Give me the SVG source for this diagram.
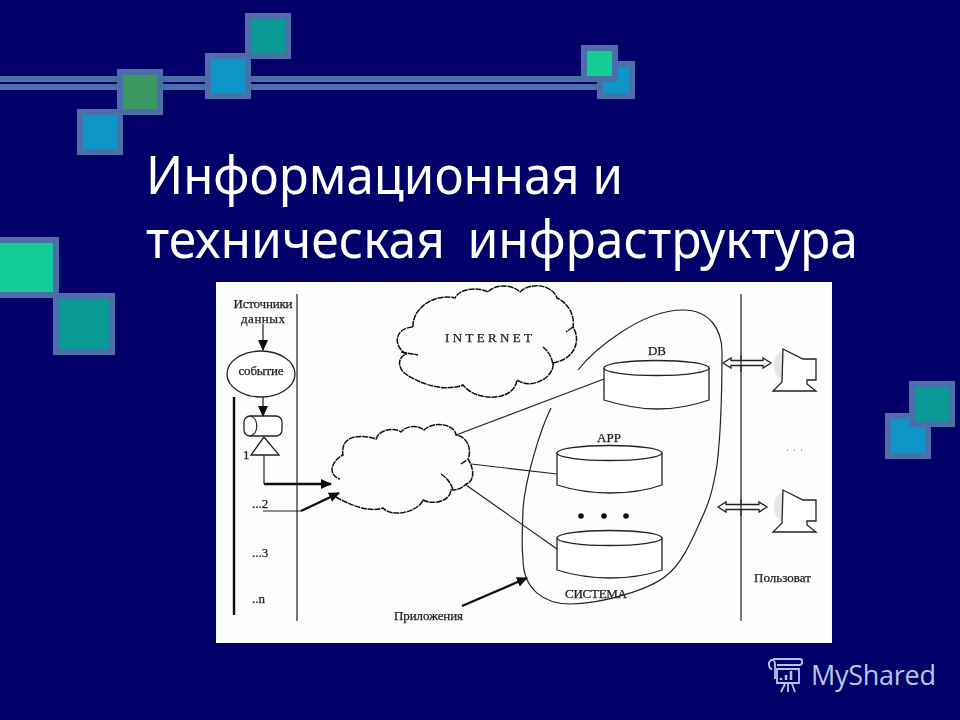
<svg xmlns="http://www.w3.org/2000/svg" width="960" height="720" viewBox="0 0 960 720">
<style>
.sq{stroke:#4a6fa8;stroke-width:6}
.band{fill:#4a6fa8}
.title{font-family:"Noto Sans","DejaVu Sans",sans-serif;font-size:52px;fill:#fff}
.t{font-family:"Liberation Serif",serif;fill:#222;font-size:13px;stroke:#222;stroke-width:.25}
.cloud{fill:none;stroke:#111;stroke-width:1.5;stroke-dasharray:6 .8}
.ln{fill:none;stroke:#222;stroke-width:1.2}
.thick{fill:none;stroke:#111;stroke-width:2.4}
.shape{fill:#fff;stroke:#222;stroke-width:1.3}
</style>
<defs>
<marker id="ah" markerUnits="userSpaceOnUse" markerWidth="12" markerHeight="12" refX="10" refY="5" orient="auto"><path d="M0 0L11 5L0 10Z" fill="#111"/></marker>
<filter id="soft" x="-2%" y="-2%" width="104%" height="104%"><feGaussianBlur stdDeviation="0.35"/></filter>
</defs>
<rect width="960" height="720" fill="#000068"/>
<g id="decor">
<rect class="band" x="0" y="76" width="598" height="6"/>
<rect class="band" x="0" y="84" width="598" height="6"/>
<rect class="sq" x="80" y="112" width="40" height="40" fill="#0f96c8"/>
<rect class="sq" x="120" y="72" width="40" height="40" fill="#3a9a62"/>
<rect class="sq" x="208" y="56" width="40" height="40" fill="#0f96c8"/>
<rect class="sq" x="248" y="16" width="40" height="40" fill="#0a9a96"/>
<rect class="sq" x="600" y="64" width="32" height="32" fill="#0f96c8"/>
<rect class="sq" x="584" y="48" width="31" height="31" fill="#14cc96"/>
<rect class="sq" x="-3" y="240" width="59" height="55" fill="#14cc96"/>
<rect class="sq" x="56" y="296" width="56" height="56" fill="#0a9a96"/>
<rect class="sq" x="888" y="416" width="40" height="40" fill="#0f96c8"/>
<rect class="sq" x="912" y="384" width="40" height="40" fill="#0a9a96"/>
</g>
<g id="title">
<text class="title" x="146" y="194" textLength="477" lengthAdjust="spacingAndGlyphs">Информационная и</text>
<text class="title" x="146" y="258" word-spacing="10" textLength="712" lengthAdjust="spacingAndGlyphs">техническая инфраструктура</text>
</g>
<rect id="panel" x="216" y="282" width="616" height="361" fill="#fdfdfe"/>
<g filter="url(#soft)">
<g id="connectors">
<path class="ln" d="M297 294V621"/>
<path class="ln" d="M741 294V621"/>
<path class="thick" d="M234 397V615"/>
<path class="ln" d="M263 324V350" stroke-width="1.5" marker-end="url(#ah)"/>
<path class="ln" d="M263 397V416" marker-end="url(#ah)"/>
<path class="ln" d="M264 455V484"/>
<path class="thick" d="M264 484H331" marker-end="url(#ah)"/>
<path class="ln" d="M263 511H301"/>
<path class="thick" d="M301 511L339 493" marker-end="url(#ah)"/>
<path class="ln" d="M456 435L604 379"/>
<path class="ln" d="M471 464L557 474"/>
<path class="ln" d="M466 485L557 549"/>
<path class="thick" d="M462 606L527 578" marker-end="url(#ah)"/>
<path class="shape" d="M723 363l8-5v2.500h32v-2.500l8 5l-8 5v-2.500h-32v2.500Z"/>
<path class="shape" d="M718 507l8-5v2.500h33v-2.500l8 5l-8 5v-2.500h-33v2.500Z"/>
<path class="ln" d="M741 355V372M741 499V516"/>
</g>
<g id="internet-cloud">
<path class="cloud" d="M413 327C412 310 432 293 455 298C460 288 478 287 488 292C495 284 512 284 520 292C530 282 552 284 557 298C568 303 575 315 573 327C580 338 578 358 553 363C555 378 530 390 517 380C514 402 476 402 463 385C445 392 420 385 403 372C398 365 398 358 406 354C392 345 395 328 413 327Z"/>
<path class="cloud" d="M401 352L418 355M543 347C549 352 552 358 553 365M573 327L566 332"/>
<text class="t" x="445" y="342" font-size="14" textLength="87">INTERNET</text>
</g>
<g id="central-cloud">
<path class="cloud" d="M336 497C350 505 370 513 383 508C392 518 418 512 423 500C432 505 450 502 451 490C458 490 462 488 466 484C474 482 475 470 468 459C472 450 468 437 456 435C455 425 435 420 424 430C420 426 408 424 401 432C396 428 380 428 376 439C360 434 340 435 343 455C330 462 328 475 340 479"/>
<path class="cloud" d="M441 474C447 478 451 483 453 490M461 464L467 460"/>
</g>
<g id="system">
<path class="ln" d="M578 370C592 352 640 310 683 310C710 310 722 330 722 352C722 400 720 440 717 465C712 495 708 505 700 522C690 545 680 565 667 575C650 590 600 604 570 604C545 604 523 590 523 559C521 540 523 520 523 509C525 480 540 430 551 408"/>
<text class="t" x="565" y="598" textLength="62" font-size="12.500">СИСТЕМА</text>
</g>
<g id="db">
<path class="shape" d="M604 368V400C620 405 640 409 657 409C675 409 695 405 709 400V368"/>
<ellipse class="shape" cx="656.500" cy="368" rx="52.500" ry="7.500"/>
<text class="t" x="657" y="355" text-anchor="middle">DB</text>
</g>
<g id="app">
<path class="shape" d="M557 453V485C573 490 593 493 610 493C628 493 648 490 662 485V453"/>
<ellipse class="shape" cx="609.500" cy="453" rx="52.500" ry="7.500"/>
<text class="t" x="609" y="442" text-anchor="middle">APP</text>
</g>
<g id="dots" fill="#111">
<circle cx="581" cy="516" r="2.800"/><circle cx="604" cy="516" r="2.800"/><circle cx="626" cy="516" r="2.800"/>
</g>
<g id="storage">
<path class="shape" d="M557 538V570C573 575 593 578 610 578C628 578 648 575 662 570V538"/>
<ellipse class="shape" cx="609.500" cy="538" rx="52.500" ry="7.500"/>
</g>
<g id="source">
<text class="t" x="263" y="308" text-anchor="middle" textLength="59">Источники</text>
<text class="t" x="263" y="323" text-anchor="middle" textLength="44">данных</text>
</g>
<g id="event">
<ellipse class="shape" cx="261" cy="374" rx="34" ry="23"/>
<text class="t" x="261" y="375" text-anchor="middle" font-size="12" textLength="45">событие</text>
</g>
<g id="queue">
<rect class="shape" x="244" y="416" width="38" height="20" rx="6"/>
<path class="ln" d="M250 416C259 418 259 434 250 436"/>
<path class="shape" d="M264 437L251 455H279Z"/>
</g>
<g id="steps">
<text class="t" x="243" y="459">1</text>
<text class="t" x="252" y="508">...2</text>
<text class="t" x="252" y="557">...3</text>
<text class="t" x="252" y="603">..n</text>
</g>
<g id="applications"><text class="t" x="394" y="620" textLength="69">Приложения</text></g>
<g id="monitor-1">
<path d="M783 351C771 355 771 375 782 380Z" fill="#e6e6e6"/>
<path class="shape" d="M783 349L803 359H816V380H807V384L816 391H773L782 382Z"/>
</g>
<g id="monitor-2">
<path d="M783 492C771 496 771 516 782 521Z" fill="#e6e6e6"/>
<path class="shape" d="M783 490L803 500H816V521H807V525L816 532H773L782 523Z"/>
</g>
<text x="786" y="451" font-family="'Liberation Serif',serif" fill="#888" font-size="12" textLength="17">...</text>
<g id="user"><text class="t" x="754" y="582" textLength="57">Пользоват</text></g>
</g>
<g id="logo" fill="none" stroke="#b9c6ea" stroke-width="1.800">
<path d="M775 679V664C775 660 772 659 770 661C768 663 769 669 772 669M773 659H800C803 659 803 664 800 665H777M777 669H799V683H777ZM785 684L781 692M792 684L795 692M788 684V692"/>
<path d="M781 680V678M786 680V675M791 680V671" stroke-width="2.500"/>
<text x="811" y="685" font-family="'Open Sans','Noto Sans',sans-serif" font-size="27" fill="#b9c6ea" stroke="none" textLength="125">MyShared</text>
</g>
</svg>
